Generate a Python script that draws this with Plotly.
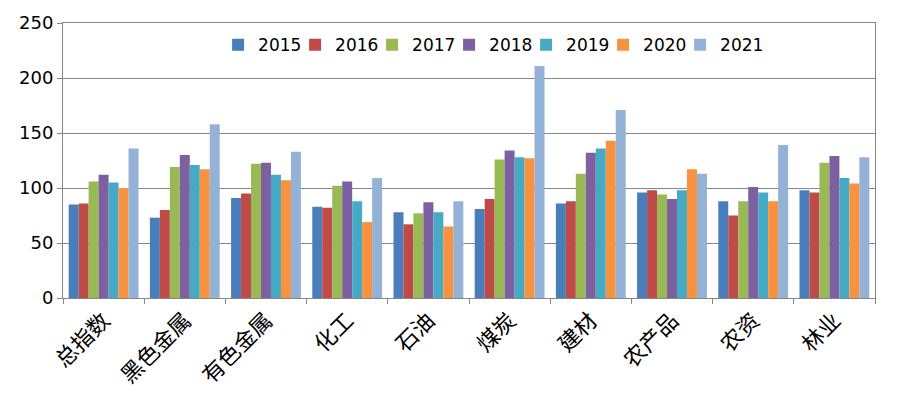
import plotly.graph_objects as go

categories = ["总指数", "黑色金属", "有色金属", "化工", "石油", "煤炭", "建材", "农产品", "农资", "林业"]
years = ["2015", "2016", "2017", "2018", "2019", "2020", "2021"]
v2015 = [85, 73, 91, 83, 78, 81, 86, 96, 88, 98]
v2016 = [86, 80, 95, 82, 67, 90, 88, 98, 75, 96]
v2017 = [106, 119, 122, 102, 77, 126, 113, 94, 88, 123]
v2018 = [112, 130, 123, 106, 87, 134, 132, 90, 101, 129]
v2019 = [105, 121, 112, 88, 78, 128, 136, 98, 96, 109]
v2020 = [100, 117, 107, 69, 65, 127, 143, 117, 88, 104]
v2021 = [136, 158, 133, 109, 88, 211, 171, 113, 139, 128]
series = [v2015, v2016, v2017, v2018, v2019, v2020, v2021]
colors = ["#4A7EBB", "#BE4B48", "#98B954", "#7D60A0", "#46AAC5", "#F69240", "#94B2D6"]

fig = go.Figure()
for name, vals, c in zip(years, series, colors):
    fig.add_trace(go.Bar(x=categories, y=vals, name=name, marker=dict(color=c, line=dict(width=0))))

# invisible spacer entry so the last legend label is not clipped
fig.add_trace(go.Scatter(x=[None], y=[None], mode="markers", name=" ",
                         marker=dict(opacity=0, color="rgba(0,0,0,0)"), hoverinfo="skip",
                         showlegend=True))

fig.update_layout(
    width=899, height=403,
    margin=dict(l=55, r=32, t=15, b=113),
    paper_bgcolor="white", plot_bgcolor="white",
    barmode="group", bargap=0.14, bargroupgap=0,
    font=dict(family="DejaVu Sans, sans-serif", color="#000000"),
    legend=dict(orientation="h", x=0.191, xanchor="left", y=0.985, yanchor="top",
                font=dict(size=17, family="DejaVu Sans"), bgcolor="rgba(0,0,0,0)",
                itemwidth=30, entrywidth=32, traceorder="normal"),
    showlegend=True,
)
fig.update_yaxes(range=[0, 250], dtick=50, showgrid=True, gridcolor="#868686", gridwidth=1,
                 showline=True, linecolor="#868686", mirror=True, ticks="outside", ticklen=5,
                 tickcolor="#868686", tickfont=dict(size=18, family="DejaVu Sans"), zeroline=False,
                 automargin=False)
fig.update_xaxes(showline=True, linecolor="#868686", mirror=True, ticks="outside", ticklen=5,
                 tickcolor="#868686", tickson="boundaries", tickangle=-45,
                 tickfont=dict(size=22, family="Noto Sans CJK SC"), automargin=False)

fig.write_html("out.html")
